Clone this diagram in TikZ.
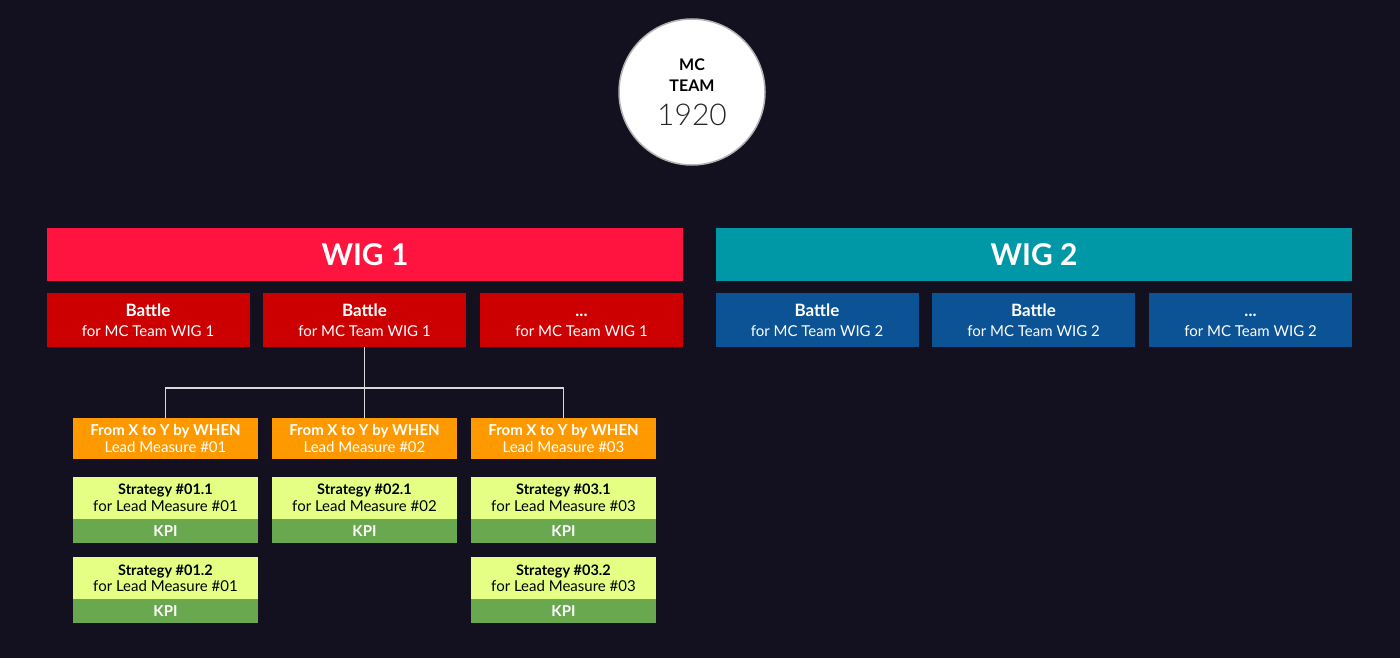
\documentclass[tikz,border=0pt]{standalone}
\usepackage{fontspec}
\setmainfont{Lato}
\newfontfamily\latolight{Lato Light}
\usepackage{xcolor}
\usetikzlibrary{positioning}

\definecolor{bgnavy}{HTML}{13111F}
\definecolor{wigred}{HTML}{FF143F}
\definecolor{wigteal}{HTML}{0097A7}
\definecolor{battlered}{HTML}{CC0000}
\definecolor{battleblue}{HTML}{0B5394}
\definecolor{leadorange}{HTML}{FF9900}
\definecolor{stratlime}{HTML}{E5FF85}
\definecolor{kpigreen}{HTML}{6AA84F}

\begin{document}
\begin{tikzpicture}[x=1pt, y=-1pt,
  wig/.style={rectangle, minimum width=636pt, minimum height=53pt, inner sep=0pt,
    text=white, font=\fontsize{30}{34}\selectfont\bfseries},
  battle/.style={rectangle, minimum width=203pt, minimum height=54pt, inner sep=0pt,
    text=white, align=center, font=\fontsize{15}{19.7}\selectfont},
  lead/.style={rectangle, fill=leadorange, minimum width=185pt, minimum height=41pt,
    inner sep=0pt, text=white, align=center, font=\fontsize{15}{17.3}\selectfont},
  strat/.style={rectangle, fill=stratlime, minimum width=185pt, minimum height=42pt,
    inner sep=0pt, text=black, align=center, font=\fontsize{15}{16.7}\selectfont},
  kpi/.style={rectangle, fill=kpigreen, minimum width=185pt, minimum height=24pt,
    inner sep=0pt, text=white, font=\fontsize{15}{17}\selectfont\bfseries},
  link/.style={draw=white!85!black, line width=1.6pt}]
  % background
  \useasboundingbox[fill=bgnavy] (0,0) rectangle (1400,658);

  % team circle
  \node (team) [circle, fill=white, draw=black!30, line width=1.5pt, minimum size=146pt,
    inner sep=0pt, align=center, font=\fontsize{16}{21}\selectfont\bfseries] at (692,92)
    {MC\\TEAM\\[11.6pt]{\latolight\fontsize{30}{30}\selectfont\mdseries\color{black!85} 1920}};

  % WIG 1 (left)
  \node (wig1) [wig, fill=wigred] at (365,254.5) {WIG 1};
  \node (b11) [battle, fill=battlered] at (148,320) {{\fontsize{17}{19.7}\selectfont\bfseries Battle}\\for MC Team WIG 1};
  \node (b12) [battle, fill=battlered] at (364.5,320) {{\fontsize{17}{19.7}\selectfont\bfseries Battle}\\for MC Team WIG 1};
  \node (b13) [battle, fill=battlered] at (581.5,320) {{\fontsize{17}{19.7}\selectfont\bfseries\vphantom{Battle}...}\\for MC Team WIG 1};

  % WIG 2 (right)
  \node (wig2) [wig, fill=wigteal] at (1034,254.5) {WIG 2};
  \node (b21) [battle, fill=battleblue] at (817,320) {{\fontsize{17}{19.7}\selectfont\bfseries Battle}\\for MC Team WIG 2};
  \node (b22) [battle, fill=battleblue] at (1033.5,320) {{\fontsize{17}{19.7}\selectfont\bfseries Battle}\\for MC Team WIG 2};
  \node (b23) [battle, fill=battleblue] at (1250.5,320) {{\fontsize{17}{19.7}\selectfont\bfseries\vphantom{Battle}...}\\for MC Team WIG 2};

  % lead measures
  \node (lm1) [lead] at (165.5,438.5) {\textbf{From X to Y by WHEN}\\Lead Measure \#01};
  \node (lm2) [lead] at (364.5,438.5) {\textbf{From X to Y by WHEN}\\Lead Measure \#02};
  \node (lm3) [lead] at (563.5,438.5) {\textbf{From X to Y by WHEN}\\Lead Measure \#03};
  \coordinate (fork) at (364.5,388);
  \draw[link] (b12.south) -- (lm2.north);
  \draw[link] (lm1.north) |- (fork) -| (lm3.north);

  % strategies with KPI
  \node (s11) [strat] at (165.5,497.5) {{\fontsize{14.5}{16.7}\selectfont\bfseries Strategy \#01.1}\\for Lead Measure \#01};
  \node (k11) [kpi, below=-0.3pt of s11] {KPI};
  \node (s12) [strat] at (165.5,578.3) {{\fontsize{14.5}{16.7}\selectfont\bfseries Strategy \#01.2}\\for Lead Measure \#01};
  \node (k12) [kpi, below=-0.3pt of s12] {KPI};
  \node (s21) [strat] at (364.5,497.5) {{\fontsize{14.5}{16.7}\selectfont\bfseries Strategy \#02.1}\\for Lead Measure \#02};
  \node (k21) [kpi, below=-0.3pt of s21] {KPI};
  \node (s31) [strat] at (563.5,497.5) {{\fontsize{14.5}{16.7}\selectfont\bfseries Strategy \#03.1}\\for Lead Measure \#03};
  \node (k31) [kpi, below=-0.3pt of s31] {KPI};
  \node (s32) [strat] at (563.5,578.3) {{\fontsize{14.5}{16.7}\selectfont\bfseries Strategy \#03.2}\\for Lead Measure \#03};
  \node (k32) [kpi, below=-0.3pt of s32] {KPI};
\end{tikzpicture}
\end{document}
